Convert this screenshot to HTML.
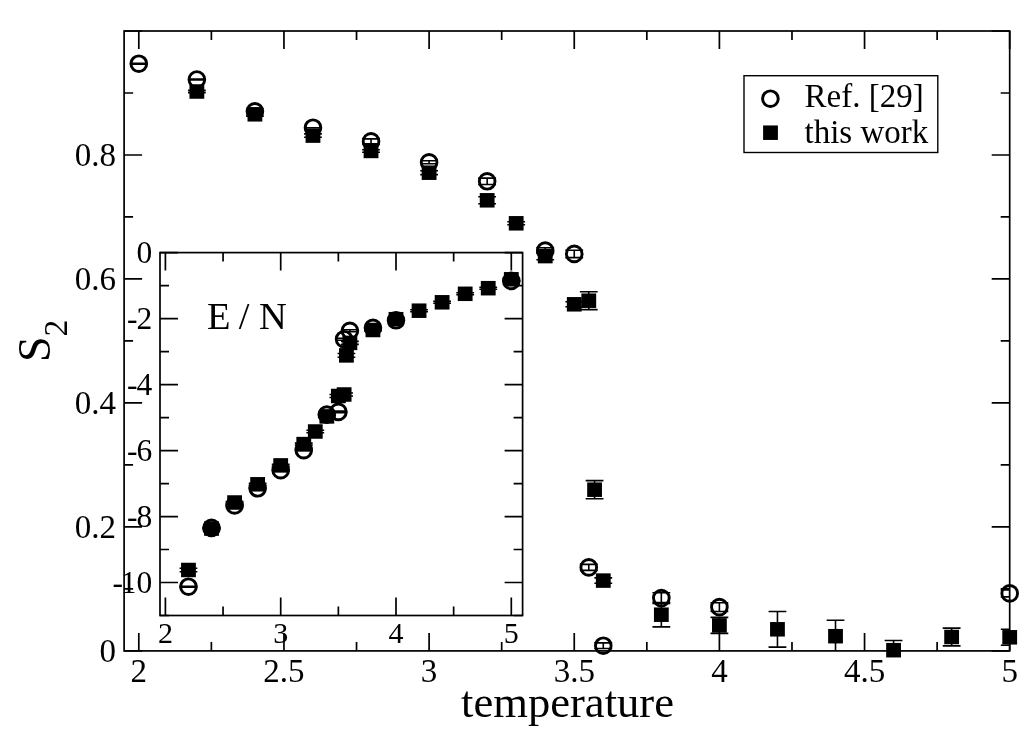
<!DOCTYPE html>
<html><head><meta charset="utf-8"><title>S2 vs temperature</title>
<style>html,body{margin:0;padding:0;background:#fff;width:1024px;height:733px;overflow:hidden}svg{display:block}</style>
</head><body>
<svg width="1024" height="733" viewBox="0 0 1024 733" font-family='"Liberation Serif", "Times New Roman", serif' fill="#000">
<rect width="1024" height="733" fill="#fff"/>
<rect x="124.1" y="31" width="885.6" height="619.9" fill="none" stroke="#000" stroke-width="1.7"/>
<path d="M138.8 650.9V632.9M138.8 31V49M211.38 650.9V641.9M211.38 31V40M283.95 650.9V632.9M283.95 31V49M356.53 650.9V641.9M356.53 31V40M429.1 650.9V632.9M429.1 31V49M501.68 650.9V641.9M501.68 31V40M574.25 650.9V632.9M574.25 31V49M646.83 650.9V641.9M646.83 31V40M719.4 650.9V632.9M719.4 31V49M791.98 650.9V641.9M791.98 31V40M864.55 650.9V632.9M864.55 31V49M937.12 650.9V641.9M937.12 31V40M1009.7 650.9V632.9M1009.7 31V49M124.1 650.9H142.1M1009.7 650.9H991.7M124.1 588.91H133.1M1009.7 588.91H1000.7M124.1 526.92H142.1M1009.7 526.92H991.7M124.1 464.93H133.1M1009.7 464.93H1000.7M124.1 402.94H142.1M1009.7 402.94H991.7M124.1 340.95H133.1M1009.7 340.95H1000.7M124.1 278.96H142.1M1009.7 278.96H991.7M124.1 216.97H133.1M1009.7 216.97H1000.7M124.1 154.98H142.1M1009.7 154.98H991.7M124.1 92.99H133.1M1009.7 92.99H1000.7M124.1 31H142.1M1009.7 31H991.7" fill="none" stroke="#000" stroke-width="1.7"/>
<g font-size="33" text-anchor="middle"><text x="138.8" y="682">2</text><text x="283.95" y="682">2.5</text><text x="429.1" y="682">3</text><text x="574.25" y="682">3.5</text><text x="719.4" y="682">4</text><text x="864.55" y="682">4.5</text><text x="1009.7" y="682">5</text></g>
<g font-size="33" text-anchor="end"><text x="116" y="662.2">0</text><text x="116" y="538.22">0.2</text><text x="116" y="414.24">0.4</text><text x="116" y="290.26">0.6</text><text x="116" y="166.28">0.8</text></g>
<text x="567.5" y="716.5" font-size="44.6" text-anchor="middle">temperature</text>
<text transform="translate(49.8 362) rotate(-90)" font-size="46">S<tspan font-size="33.5" dy="17">2</tspan></text>
<defs><clipPath id="cm"><rect x="124.1" y="31" width="885.6" height="619.9"/></clipPath><clipPath id="ci"><rect x="160" y="252.6" width="362.6" height="362.9"/></clipPath></defs>
<path clip-path="url(#cm)" d="M138.8 63.2V64.2M129.9 63.2H147.7M129.9 64.2H147.7M196.86 79V80M187.96 79H205.76M187.96 80H205.76M254.92 110.9V111.9M246.02 110.9H263.82M246.02 111.9H263.82M312.98 127.7V127.7M304.08 127.7H321.88M304.08 127.7H321.88M371.04 138.9V143.9M362.14 138.9H379.94M362.14 143.9H379.94M429.1 160.8V163.8M420.2 160.8H438M420.2 163.8H438M487.16 178.1V184.5M478.26 178.1H496.06M478.26 184.5H496.06M545.22 247.8V253.4M536.32 247.8H554.12M536.32 253.4H554.12M574.25 250.2V257.6M565.35 250.2H583.15M565.35 257.6H583.15M588.76 564.4V570.4M579.87 564.4H597.66M579.87 570.4H597.66M603.28 642.9V648.5M594.38 642.9H612.18M594.38 648.5H612.18M661.34 592.8V603.4M652.44 592.8H670.24M652.44 603.4H670.24M719.4 602.7V611.5M710.5 602.7H728.3M710.5 611.5H728.3M1009.7 589.9V596.9M1000.8 589.9H1018.6M1000.8 596.9H1018.6" fill="none" stroke="#000" stroke-width="1.6"/>
<g fill="none" stroke="#000" stroke-width="2.9"><circle cx="138.8" cy="63.7" r="7.85"/><circle cx="196.86" cy="79.5" r="7.85"/><circle cx="254.92" cy="111.4" r="7.85"/><circle cx="312.98" cy="127.7" r="7.85"/><circle cx="371.04" cy="141.4" r="7.85"/><circle cx="429.1" cy="162.3" r="7.85"/><circle cx="487.16" cy="181.3" r="7.85"/><circle cx="545.22" cy="250.6" r="7.85"/><circle cx="574.25" cy="253.9" r="7.85"/><circle cx="588.76" cy="567.4" r="7.85"/><circle cx="603.28" cy="645.7" r="7.85"/><circle cx="661.34" cy="598.1" r="7.85"/><circle cx="719.4" cy="607.1" r="7.85"/><circle cx="1009.7" cy="593.4" r="7.85"/></g>
<path clip-path="url(#cm)" d="M196.86 90.4V92.6M187.96 90.4H205.76M187.96 92.6H205.76M254.92 112.5V116.1M246.02 112.5H263.82M246.02 116.1H263.82M312.98 133.9V137.3M304.08 133.9H321.88M304.08 137.3H321.88M371.04 149.7V152.2M362.14 149.7H379.94M362.14 152.2H379.94M429.1 170.8V174.6M420.2 170.8H438M420.2 174.6H438M487.16 196.8V203.8M478.26 196.8H496.06M478.26 203.8H496.06M516.19 221.8V224.8M507.29 221.8H525.09M507.29 224.8H525.09M545.22 252.5V259.7M536.32 252.5H554.12M536.32 259.7H554.12M574.25 301.8V306.8M565.35 301.8H583.15M565.35 306.8H583.15M588.76 291.8V309.6M579.87 291.8H597.66M579.87 309.6H597.66M594.57 480.6V498.8M585.67 480.6H603.47M585.67 498.8H603.47M603.28 577.9V583.3M594.38 577.9H612.18M594.38 583.3H612.18M661.34 602.5V626.9M652.44 602.5H670.24M652.44 626.9H670.24M719.4 617.4V633.4M710.5 617.4H728.3M710.5 633.4H728.3M777.46 611.5V647.1M768.56 611.5H786.36M768.56 647.1H786.36M835.52 620.3V652.1M826.62 620.3H844.42M826.62 652.1H844.42M893.58 640.5V659.9M884.68 640.5H902.48M884.68 659.9H902.48M951.64 628.1V645.9M942.74 628.1H960.54M942.74 645.9H960.54M1009.7 629.3V645.3M1000.8 629.3H1018.6M1000.8 645.3H1018.6" fill="none" stroke="#000" stroke-width="1.6"/>
<g fill="#000"><rect x="189.46" y="84.25" width="14.8" height="14.5"/><rect x="247.52" y="107.05" width="14.8" height="14.5"/><rect x="305.58" y="128.35" width="14.8" height="14.5"/><rect x="363.64" y="143.7" width="14.8" height="14.5"/><rect x="421.7" y="165.45" width="14.8" height="14.5"/><rect x="479.76" y="193.05" width="14.8" height="14.5"/><rect x="508.79" y="216.05" width="14.8" height="14.5"/><rect x="537.82" y="248.85" width="14.8" height="14.5"/><rect x="566.85" y="297.05" width="14.8" height="14.5"/><rect x="581.37" y="293.45" width="14.8" height="14.5"/><rect x="587.17" y="482.45" width="14.8" height="14.5"/><rect x="595.88" y="573.35" width="14.8" height="14.5"/><rect x="653.94" y="607.45" width="14.8" height="14.5"/><rect x="712" y="618.15" width="14.8" height="14.5"/><rect x="770.06" y="622.05" width="14.8" height="14.5"/><rect x="828.12" y="628.95" width="14.8" height="14.5"/><rect x="886.18" y="642.95" width="14.8" height="14.5"/><rect x="944.24" y="629.75" width="14.8" height="14.5"/><rect x="1002.3" y="630.05" width="14.8" height="14.5"/></g>
<rect x="160" y="252.6" width="362.6" height="362.9" fill="none" stroke="#000" stroke-width="1.7"/>
<path d="M165.4 615.5V597.5M165.4 252.6V270.6M223.05 615.5V606.5M223.05 252.6V261.6M280.7 615.5V597.5M280.7 252.6V270.6M338.35 615.5V606.5M338.35 252.6V261.6M396 615.5V597.5M396 252.6V270.6M453.65 615.5V606.5M453.65 252.6V261.6M511.3 615.5V597.5M511.3 252.6V270.6M160 252.6H178M522.6 252.6H504.6M160 285.59H169M522.6 285.59H513.6M160 318.58H178M522.6 318.58H504.6M160 351.57H169M522.6 351.57H513.6M160 384.56H178M522.6 384.56H504.6M160 417.55H169M522.6 417.55H513.6M160 450.55H178M522.6 450.55H504.6M160 483.54H169M522.6 483.54H513.6M160 516.53H178M522.6 516.53H504.6M160 549.52H169M522.6 549.52H513.6M160 582.51H178M522.6 582.51H504.6M160 615.5H169M522.6 615.5H513.6" fill="none" stroke="#000" stroke-width="1.7"/>
<g font-size="30" text-anchor="middle"><text x="165.4" y="643">2</text><text x="280.7" y="643">3</text><text x="396" y="643">4</text><text x="511.3" y="643">5</text></g>
<g font-size="31.5" text-anchor="end"><text x="152.3" y="263.2">0</text><text x="152.3" y="329.18">-<tspan dx="-1.0">2</tspan></text><text x="152.3" y="395.16">-<tspan dx="-1.0">4</tspan></text><text x="152.3" y="461.15">-<tspan dx="-1.0">6</tspan></text><text x="152.3" y="527.13">-<tspan dx="-1.0">8</tspan></text><text x="152.3" y="593.11">-<tspan dx="-2.2">10</tspan></text></g>
<text x="207" y="329.2" font-size="38.5">E<tspan dx="-1.5"> / N</tspan></text>
<path clip-path="url(#ci)" d="M188.46 586.2V587.2M179.56 586.2H197.36M179.56 587.2H197.36M211.52 527.4V528.4M202.62 527.4H220.42M202.62 528.4H220.42M234.58 504.9V505.9M225.68 504.9H243.48M225.68 505.9H243.48M257.64 487.8V488.8M248.74 487.8H266.54M248.74 488.8H266.54M280.7 469.7V470.7M271.8 469.7H289.6M271.8 470.7H289.6M303.76 449.6V450.6M294.86 449.6H312.66M294.86 450.6H312.66M326.82 414.1V415.1M317.92 414.1H335.72M317.92 415.1H335.72M338.35 411.1V412.7M329.45 411.1H347.25M329.45 412.7H347.25M344.12 338.2V340.2M335.22 338.2H353.01M335.22 340.2H353.01M349.88 329.8V331.8M340.98 329.8H358.78M340.98 331.8H358.78M372.94 327.3V328.3M364.04 327.3H381.84M364.04 328.3H381.84M396 319.8V320.8M387.1 319.8H404.9M387.1 320.8H404.9M511.3 280.4V281.4M502.4 280.4H520.2M502.4 281.4H520.2" fill="none" stroke="#000" stroke-width="1.6"/>
<g fill="none" stroke="#000" stroke-width="2.9"><circle cx="188.46" cy="586.7" r="7.85"/><circle cx="211.52" cy="527.9" r="7.85"/><circle cx="234.58" cy="505.4" r="7.85"/><circle cx="257.64" cy="488.3" r="7.85"/><circle cx="280.7" cy="470.2" r="7.85"/><circle cx="303.76" cy="450.1" r="7.85"/><circle cx="326.82" cy="414.6" r="7.85"/><circle cx="338.35" cy="411.9" r="7.85"/><circle cx="344.12" cy="339.2" r="7.85"/><circle cx="349.88" cy="330.8" r="7.85"/><circle cx="372.94" cy="327.8" r="7.85"/><circle cx="396" cy="320.3" r="7.85"/><circle cx="511.3" cy="280.9" r="7.85"/></g>
<path clip-path="url(#ci)" d="M188.46 568.3V571.7M179.56 568.3H197.36M179.56 571.7H197.36M211.52 527.8V529.4M202.62 527.8H220.42M202.62 529.4H220.42M234.58 501.5V503.5M225.68 501.5H243.48M225.68 503.5H243.48M257.64 483.3V485.3M248.74 483.3H266.54M248.74 485.3H266.54M280.7 464.4V466.4M271.8 464.4H289.6M271.8 466.4H289.6M303.76 443.1V445.1M294.86 443.1H312.66M294.86 445.1H312.66M315.29 430.3V432.7M306.39 430.3H324.19M306.39 432.7H324.19M326.82 415.4V417.4M317.92 415.4H335.72M317.92 417.4H335.72M338.35 394.5V397.5M329.45 394.5H347.25M329.45 397.5H347.25M344.12 393V396M335.22 393H353.01M335.22 396H353.01M346.42 353.5V357.3M337.52 353.5H355.32M337.52 357.3H355.32M349.88 341.4V344.4M340.98 341.4H358.78M340.98 344.4H358.78M372.94 329V331M364.04 329H381.84M364.04 331H381.84M396 318.2V320.2M387.1 318.2H404.9M387.1 320.2H404.9M419.06 309.7V311.7M410.16 309.7H427.96M410.16 311.7H427.96M442.12 301.3V303.3M433.22 301.3H451.02M433.22 303.3H451.02M465.18 292.8V294.8M456.28 292.8H474.08M456.28 294.8H474.08M488.24 287.2V289.2M479.34 287.2H497.14M479.34 289.2H497.14M511.3 278.3V280.3M502.4 278.3H520.2M502.4 280.3H520.2" fill="none" stroke="#000" stroke-width="1.6"/>
<g fill="#000"><rect x="181.06" y="562.75" width="14.8" height="14.5"/><rect x="204.12" y="521.35" width="14.8" height="14.5"/><rect x="227.18" y="495.25" width="14.8" height="14.5"/><rect x="250.24" y="477.05" width="14.8" height="14.5"/><rect x="273.3" y="458.15" width="14.8" height="14.5"/><rect x="296.36" y="436.85" width="14.8" height="14.5"/><rect x="307.89" y="424.25" width="14.8" height="14.5"/><rect x="319.42" y="409.15" width="14.8" height="14.5"/><rect x="330.95" y="388.75" width="14.8" height="14.5"/><rect x="336.72" y="387.25" width="14.8" height="14.5"/><rect x="339.02" y="348.15" width="14.8" height="14.5"/><rect x="342.48" y="335.65" width="14.8" height="14.5"/><rect x="365.54" y="322.75" width="14.8" height="14.5"/><rect x="388.6" y="311.95" width="14.8" height="14.5"/><rect x="411.66" y="303.45" width="14.8" height="14.5"/><rect x="434.72" y="295.05" width="14.8" height="14.5"/><rect x="457.78" y="286.55" width="14.8" height="14.5"/><rect x="480.84" y="280.95" width="14.8" height="14.5"/><rect x="503.9" y="272.05" width="14.8" height="14.5"/></g>
<rect x="744" y="75.7" width="193.8" height="76.8" fill="#fff" stroke="#000" stroke-width="1.4"/>
<circle cx="770.4" cy="98.7" r="7.85" fill="none" stroke="#000" stroke-width="2.9"/>
<rect x="763.1" y="125.45" width="14.8" height="14.5" fill="#000"/>
<text x="804.5" y="106.8" font-size="33">Ref. [29]</text>
<text x="804.5" y="143.4" font-size="33">this work</text>
</svg>
</body></html>
